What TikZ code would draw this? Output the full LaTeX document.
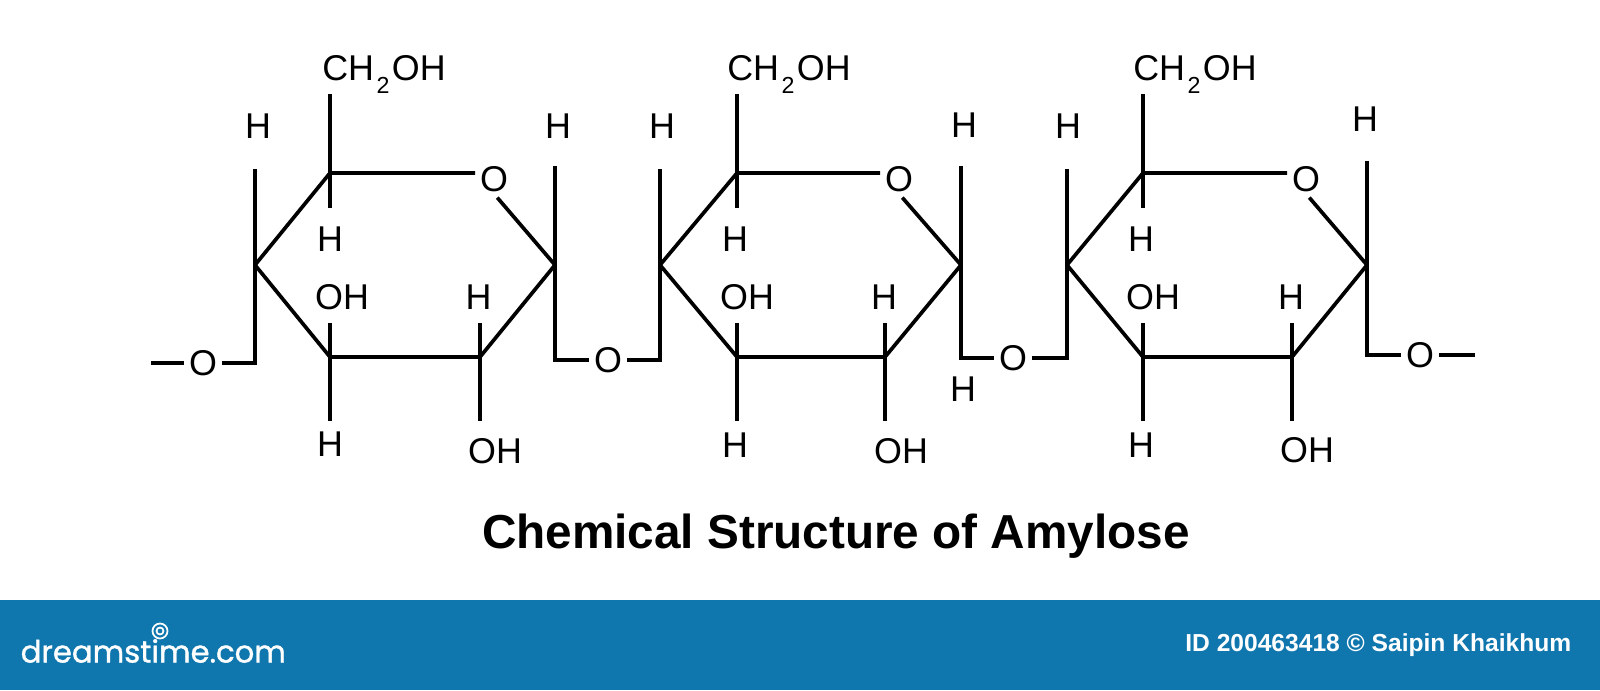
\documentclass[tikz,border=0pt]{standalone}
\usepackage{fontspec}
\setmainfont{Liberation Sans}
\newfontfamily\brandfont[RawFeature={embolden=1.2}]{Poppins}
\usepackage{tikz}
\definecolor{bannerblue}{RGB}{15,118,174}
\tikzset{
    atom/.style={inner sep=0pt, outer sep=0pt, minimum size=0pt},
    bond/.style={line width=1.05pt},
    chem/.style={inner sep=0pt, outer sep=0pt, text height=7.3pt, text depth=0pt, font=\fontsize{10.2}{12}\selectfont},
    oxy/.style={chem, circle, minimum size=0.37cm},
    heading/.style={inner sep=0pt, font=\fontsize{13.57}{16}\selectfont\bfseries},
    brand/.style={inner sep=0pt, text=white, font=\fontsize{8.73}{10}\brandfont},
    credit/.style={inner sep=0pt, text=white, font=\fontsize{7}{8}\selectfont\bfseries},
    spiral/.style={circle, draw=white, line width=0.5pt, inner sep=0pt}
}
\newcommand{\chtwo}{CH\raisebox{-0.65ex}{\hspace{0.7pt}\fontsize{6.6}{8}\selectfont 2\hspace{0.7pt}}OH}
\begin{document}
\begin{tikzpicture}
        \useasboundingbox (0, 0) rectangle (16, 6.9);
        \fill [white] (0, 0) rectangle (16, 6.9);
        \fill [bannerblue] (0, 0) rectangle (16, 0.9);

        % first ring
        \node (c4a) at (2.55, 4.25) [atom] {};
        \node (c5a) at (3.30, 5.17) [atom] {};
        \node (oa) at (4.94, 5.11) [oxy] {O};
        \node (c1a) at (5.55, 4.25) [atom] {};
        \node (c2a) at (4.80, 3.33) [atom] {};
        \node (c3a) at (3.30, 3.33) [atom] {};
        \node (cha) at (3.84, 6.22) [chem] {\chtwo};
        \node (h4a) at (2.58, 5.64) [chem] {H};
        \node (h1a) at (5.58, 5.64) [chem] {H};
        \node (h5a) at (3.30, 4.51) [chem] {H};
        \node (oh3a) at (3.42, 3.93) [chem] {OH};
        \node (h2a) at (4.785, 3.93) [chem] {H};
        \node (h3a) at (3.30, 2.46) [chem] {H};
        \node (oh2a) at (4.95, 2.39) [chem] {OH};
        \coordinate (t4a) at (2.55, 5.21);
        \coordinate (k4a) at (2.55, 3.27);
        \coordinate (t5a) at (3.30, 5.96);
        \coordinate (b5a) at (3.30, 4.82);
        \coordinate (t3a) at (3.30, 3.67);
        \coordinate (b3a) at (3.30, 2.69);
        \coordinate (t2a) at (4.80, 3.67);
        \coordinate (b2a) at (4.80, 2.69);
        \coordinate (t1a) at (5.55, 5.24);
        \coordinate (k1a) at (5.55, 3.30);

        % second ring
        \node (c4b) at (6.60, 4.25) [atom] {};
        \node (c5b) at (7.37, 5.17) [atom] {};
        \node (ob) at (8.99, 5.11) [oxy] {O};
        \node (c1b) at (9.61, 4.25) [atom] {};
        \node (c2b) at (8.85, 3.33) [atom] {};
        \node (c3b) at (7.37, 3.33) [atom] {};
        \node (chb) at (7.89, 6.22) [chem] {\chtwo};
        \node (h4b) at (6.62, 5.645) [chem] {H};
        \node (h1b) at (9.64, 5.655) [chem] {H};
        \node (h5b) at (7.35, 4.51) [chem] {H};
        \node (oh3b) at (7.47, 3.93) [chem] {OH};
        \node (h2b) at (8.84, 3.93) [chem] {H};
        \node (h3b) at (7.35, 2.45) [chem] {H};
        \node (oh2b) at (9.01, 2.39) [chem] {OH};
        \node (hxb) at (9.63, 3.01) [chem] {H};
        \coordinate (t4b) at (6.60, 5.21);
        \coordinate (k4b) at (6.60, 3.30);
        \coordinate (t5b) at (7.37, 5.96);
        \coordinate (b5b) at (7.37, 4.82);
        \coordinate (t3b) at (7.37, 3.67);
        \coordinate (b3b) at (7.37, 2.69);
        \coordinate (t2b) at (8.85, 3.67);
        \coordinate (b2b) at (8.85, 2.69);
        \coordinate (t1b) at (9.61, 5.24);
        \coordinate (k1b) at (9.61, 3.32);

        % third ring
        \node (c4c) at (10.67, 4.25) [atom] {};
        \node (c5c) at (11.43, 5.17) [atom] {};
        \node (oc) at (13.06, 5.11) [oxy] {O};
        \node (c1c) at (13.67, 4.25) [atom] {};
        \node (c2c) at (12.92, 3.33) [atom] {};
        \node (c3c) at (11.43, 3.33) [atom] {};
        \node (chc) at (11.95, 6.22) [chem] {\chtwo};
        \node (h4c) at (10.68, 5.645) [chem] {H};
        \node (h1c) at (13.65, 5.71) [chem] {H};
        \node (h5c) at (11.41, 4.51) [chem] {H};
        \node (oh3c) at (11.53, 3.93) [chem] {OH};
        \node (h2c) at (12.91, 3.93) [chem] {H};
        \node (h3c) at (11.41, 2.45) [chem] {H};
        \node (oh2c) at (13.07, 2.40) [chem] {OH};
        \coordinate (t4c) at (10.67, 5.21);
        \coordinate (k4c) at (10.67, 3.32);
        \coordinate (t5c) at (11.43, 5.96);
        \coordinate (b5c) at (11.43, 4.82);
        \coordinate (t3c) at (11.43, 3.67);
        \coordinate (b3c) at (11.43, 2.69);
        \coordinate (t2c) at (12.92, 3.67);
        \coordinate (b2c) at (12.92, 2.69);
        \coordinate (t1c) at (13.67, 5.29);
        \coordinate (k1c) at (13.67, 3.35);

        % oxygen links
        \coordinate (startl) at (1.51, 3.27);
        \node (o0) at (2.03, 3.27) [oxy] {O};
        \node (o1) at (6.08, 3.30) [oxy] {O};
        \node (o2) at (10.13, 3.32) [oxy] {O};
        \node (o3) at (14.20, 3.35) [oxy] {O};
        \coordinate (endl) at (14.75, 3.35);

        % bonds
        \draw [bond] (c4a) -- (c5a) -- (c5a -| oa.west);
        \draw [bond] (oa.-80) -- (c1a) -- (c2a) -- (c3a) -- (c4a);
        \draw [bond] (c4b) -- (c5b) -- (c5b -| ob.west);
        \draw [bond] (ob.-80) -- (c1b) -- (c2b) -- (c3b) -- (c4b);
        \draw [bond] (c4c) -- (c5c) -- (c5c -| oc.west);
        \draw [bond] (oc.-80) -- (c1c) -- (c2c) -- (c3c) -- (c4c);

        \draw [bond] (t5a) edge (b5a) (t3a) edge (b3a) (t2a) edge (b2a);
        \draw [bond] (t5b) edge (b5b) (t3b) edge (b3b) (t2b) edge (b2b);
        \draw [bond] (t5c) edge (b5c) (t3c) edge (b3c) (t2c) edge (b2c);

        \draw [bond] (startl) -- (o0);
        \draw [bond] (o0) -- (k4a) -- (t4a);
        \draw [bond] (t1a) -- (k1a) -- (o1);
        \draw [bond] (o1) -- (k4b) -- (t4b);
        \draw [bond] (t1b) -- (k1b) -- (o2);
        \draw [bond] (o2) -- (k4c) -- (t4c);
        \draw [bond] (t1c) -- (k1c) -- (o3);
        \draw [bond] (o3) -- (endl);

        % heading and banner
        \node (title) at (8.36, 1.54) [heading] {Chemical Structure of Amylose};
        \node (site) at (0.20, 0.39) [brand, anchor=west] {dreamstime.com};
        \node (logo) at (1.60, 0.59) [spiral, minimum size=0.15cm] {};
        \node (logoin) at (1.60, 0.59) [spiral, minimum size=0.07cm] {};
        \node (idline) at (15.72, 0.45) [credit, anchor=east] {ID 200463418 © Saipin Khaikhum};
    \end{tikzpicture}
\end{document}
